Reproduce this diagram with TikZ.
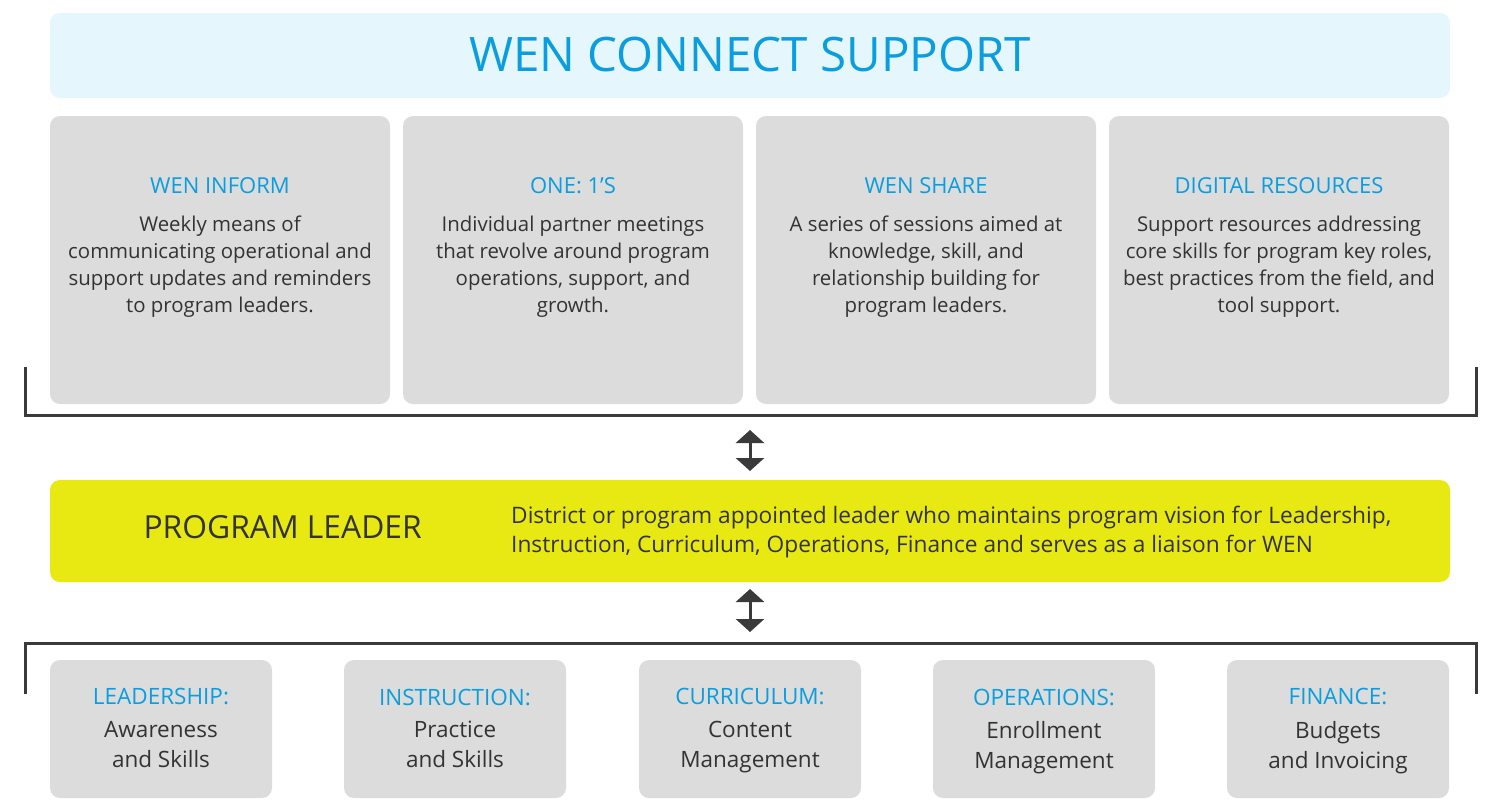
\documentclass[tikz,border=0pt]{standalone}
\usepackage{fontspec}
\setmainfont{Open Sans}
\usetikzlibrary{arrows.meta}
\definecolor{wenblue}{HTML}{0A9DDF}
\definecolor{lightcyan}{HTML}{E5F6FD}
\definecolor{boxgrey}{HTML}{DCDCDC}
\definecolor{leaderyellow}{HTML}{E8E813}
\definecolor{darktext}{HTML}{333333}
\definecolor{linegrey}{HTML}{3A3A3A}
\tikzset{
  panel/.style={fill=boxgrey, rounded corners=10pt, draw=none},
  headtext/.style={text=wenblue, font=\fontsize{22}{27}\selectfont, anchor=center},
  bodytext/.style={text=darktext, font=\fontsize{20.4}{27}\selectfont, align=center, anchor=north, inner sep=0pt},
  smallhead/.style={text=wenblue, font=\fontsize{22.5}{30}\selectfont, anchor=center},
  smallbody/.style={text=darktext, font=\fontsize{22.5}{30}\selectfont, align=center, anchor=north, inner sep=0pt},
  bracketline/.style={draw=linegrey, line width=3pt},
  dblarrow/.style={draw=linegrey, line width=3pt, {Triangle[width=28pt,length=13pt]}-{Triangle[width=28pt,length=13pt]}}
}
\begin{document}
\begin{tikzpicture}[x=1pt,y=-1pt]
\useasboundingbox (0,0) rectangle (1500,806);
% title
\path[fill=lightcyan, rounded corners=10pt] (50,13) rectangle (1450,98);
\node[text=wenblue, font=\fontsize{47.5}{57}\selectfont] (title) at (750,55) {WEN CONNECT SUPPORT};
% four panels
\foreach \x/\nm in {50/p1,403/p2,756/p3,1109/p4}{
  \path[panel] (\x,116) rectangle ++(340,288);
  \coordinate (\nm) at ({\x+170},186);
}
\node[headtext] (h1) at (p1) {WEN INFORM};
\node[headtext] (h2) at (p2) {ONE: 1’S};
\node[headtext] (h3) at (p3) {WEN SHARE};
\node[headtext] (h4) at (p4) {DIGITAL RESOURCES};
\node[bodytext] (b1) at (220,216) {Weekly means of\\communicating operational and\\support updates and reminders\\to program leaders.};
\node[bodytext] (b2) at (573,216) {Individual partner meetings\\that revolve around program\\operations, support, and\\growth.};
\node[bodytext] (b3) at (926,216) {A series of sessions aimed at\\knowledge, skill, and\\relationship building for\\program leaders.};
\node[bodytext] (b4) at (1279,216) {Support resources addressing\\core skills for program key roles,\\best practices from the field, and\\tool support.};
% top bracket
\coordinate (tbl) at (25,367);
\coordinate (tbr) at (1476,367);
\draw[bracketline] (tbl) -- (25,415) -- (1476,415) -- (tbr);
% arrow 1
\coordinate (a1t) at (750,430);
\coordinate (a1b) at (750,471);
\draw[dblarrow] (a1t) -- (a1b);
% leader box
\path[fill=leaderyellow, rounded corners=10pt] (50,480) rectangle (1450,582);
\node[text=darktext, font=\fontsize{31.8}{36}\selectfont, anchor=west] (pl) at (140,527) {PROGRAM LEADER};
\node[text=darktext, font=\fontsize{22.7}{29}\selectfont, align=left, anchor=west, inner sep=0pt] (pld) at (511,532) {District or program appointed leader who maintains program vision for Leadership,\\Instruction, Curriculum, Operations, Finance and serves as a liaison for WEN};
% arrow 2
\coordinate (a2t) at (750,589);
\coordinate (a2b) at (750,632);
\draw[dblarrow] (a2t) -- (a2b);
% bottom bracket
\coordinate (bbl) at (25,694);
\coordinate (bbr) at (1476,694);
\draw[bracketline] (bbl) -- (25,643) -- (1476,643) -- (bbr);
% five boxes
\foreach \x/\nm in {50/q1,344/q2,639/q3,933/q4,1227/q5}{
  \path[panel] (\x,660) rectangle ++(222,138);
  \coordinate (\nm) at ({\x+111},697);
}
\node[smallhead] (s1) at (q1) {LEADERSHIP:};
\node[smallhead] (s2) at (q2) {INSTRUCTION:};
\node[smallhead] (s3) at (q3) {CURRICULUM:};
\node[smallhead] (s4) at (q4) {OPERATIONS:};
\node[smallhead] (s5) at (q5) {FINANCE:};
\node[smallbody] (t1) at (161,721) {Awareness\\and Skills};
\node[smallbody] (t2) at (455,721) {Practice\\and Skills};
\node[smallbody] (t3) at (750,721) {Content\\Management};
\node[smallbody] (t4) at (1044,721) {Enrollment\\Management};
\node[smallbody] (t5) at (1338,721) {Budgets\\and Invoicing};
\end{tikzpicture}
\end{document}
